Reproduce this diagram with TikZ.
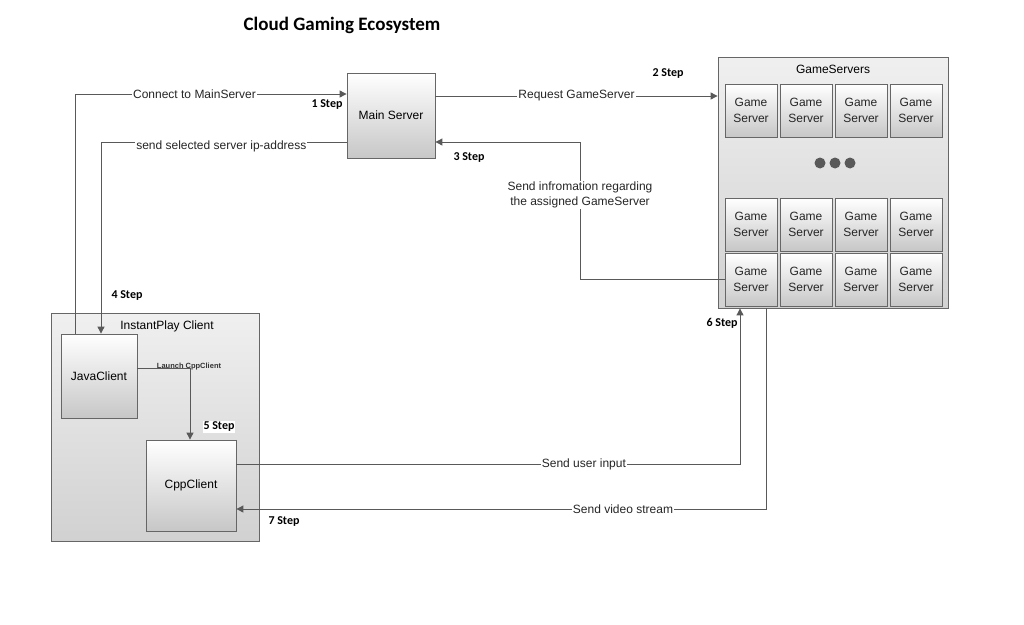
\documentclass[tikz,border=0pt]{standalone}
\usepackage{fontspec}
\setmainfont{Liberation Sans}
\newfontfamily\stepfont{Carlito}
\usetikzlibrary{arrows.meta}
\begin{document}
\begin{tikzpicture}[x=1pt,y=-1pt,
  box/.style={draw=black!60,line width=0.8pt,top color=white,bottom color=black!22,inner sep=0pt},
  outer/.style={draw=black!60,line width=0.8pt,top color=black!6,bottom color=black!18,inner sep=0pt},
  cell/.style={box,minimum width=52pt,minimum height=53pt,align=center,font=\fontsize{12}{16}\selectfont,text=black!85},
  conn/.style={draw=black!65,line width=0.9pt},
  arr/.style={conn,-{Triangle[length=7pt,width=7pt]}},
  lbl/.style={fill=white,inner sep=1pt,font=\fontsize{12}{15}\selectfont,text=black!85},
  stp/.style={font=\stepfont\bfseries\fontsize{12}{14}\selectfont,inner sep=1pt,fill=white}]
\useasboundingbox (0,0) rectangle (1024,624);
\node[font=\stepfont\bfseries\fontsize{19}{22}\selectfont] (title) at (342,25) {Cloud Gaming Ecosystem};
% main server
\node[box,minimum width=88pt,minimum height=85pt,font=\fontsize{12}{14}\selectfont] (ms) at (391,115.5) {Main Server};
% gameservers
\node[outer,minimum width=230pt,minimum height=251pt] (gs) at (833,182.5) {};
\node[font=\fontsize{12}{14}\selectfont] (gst) at (833,69) {GameServers};
\foreach \c/\x in {1/751,2/806,3/861,4/916}{
  \node[cell] (a\c) at (\x,110.5) {Game\\Server};
  \node[cell] (b\c) at (\x,224.5) {Game\\Server};
  \node[cell] (c\c) at (\x,279.5) {Game\\Server};
}
\foreach \x/\n in {820/d1,835/d2,850/d3} \fill[black!65] (\x,163) circle (5.5pt) coordinate (\n);
% client
\node[outer,minimum width=208pt,minimum height=228pt] (ip) at (155,427) {};
\node[font=\fontsize{12}{14}\selectfont] (ipt) at (167,326) {InstantPlay Client};
\node[box,minimum width=76pt,minimum height=84pt,font=\fontsize{12}{14}\selectfont] (jc) at (99,376) {JavaClient};
\node[box,minimum width=90pt,minimum height=91pt,font=\fontsize{12}{14}\selectfont] (cc) at (191,485.5) {CppClient};
% connectors
\coordinate (p1) at (75,94);
\draw[arr] (jc.north -| p1) -- (p1) -- node[lbl,pos=0.44] (l1) {Connect to MainServer} (ms.west |- p1);
\coordinate (p2) at (101,142);
\draw[arr] (ms.west |- p2) -- node[lbl,pos=0.51,yshift=-4pt] (l2) {send selected server ip-address} (p2) -- (jc.north -| p2);
\coordinate (p0) at (0,96);
\draw[arr] (ms.east |- p0) -- node[lbl,pos=0.5] (l3) {Request GameServer} (gs.west |- p0);
\coordinate (p3) at (580,279.5);
\coordinate (p4) at (580,142);
\draw[arr] (c1.west) -- (p3) -- (p4) -- (ms.east |- p4);
\node[lbl,align=center] (l4) at (580,195) {Send infromation regarding\\the assigned GameServer};
\coordinate (p5) at (190,368);
\draw[arr] (jc.east |- p5) -- (p5) -- (cc.north -| p5);
\node[font=\bfseries\fontsize{7.5}{9}\selectfont,text=black!80] (l5) at (189,367) {Launch CppClient};
\coordinate (p6) at (740,464);
\draw[arr] (cc.east |- p6) -- node[lbl,pos=0.69] (l6) {Send user input} (p6) -- (gs.south -| p6);
\coordinate (p7) at (766,509);
\draw[arr] (gs.south -| p7) -- (p7) -- node[lbl,pos=0.27] (l7) {Send video stream} (cc.east |- p7);
% steps
\node[stp] (s1) at (327,105) {1 Step};
\node[stp] (s2) at (668,74) {2 Step};
\node[stp] (s3) at (469,158) {3 Step};
\node[stp] (s4) at (127,296) {4 Step};
\node[stp] (s5) at (219,427) {5 Step};
\node[stp,fill=none] (s6) at (722,323) {6 Step};
\node[stp] (s7) at (284,521) {7 Step};
\end{tikzpicture}
\end{document}
